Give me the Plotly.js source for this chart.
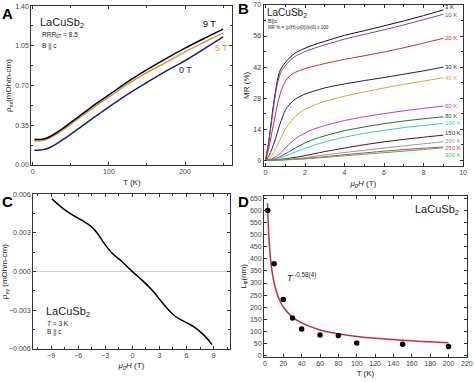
<!DOCTYPE html>
<html>
<head>
<meta charset="utf-8">
<script src="https://cdn.plot.ly/plotly-3.0.1.min.js"></script>
<style>html,body{margin:0;padding:0;background:#fff}#plot{width:474px;height:382px}</style>
</head>
<body>
<div id="plot"></div>
<script>
// ---------- Panel A: rho_xx vs T ----------
const tempA = [2,10,15,20,25,30,40,50,60,70,80,90,100,125,150,175,200,225,250];
const rho9T = [0.224,0.226,0.232,0.243,0.26,0.28,0.325,0.375,0.425,0.475,0.525,0.572,0.618,0.735,0.84,0.938,1.03,1.115,1.197];
const rho5T = [0.212,0.214,0.22,0.231,0.248,0.267,0.311,0.36,0.41,0.46,0.508,0.555,0.6,0.715,0.815,0.905,0.997,1.082,1.164];
const rho0T = [0.13,0.132,0.138,0.148,0.163,0.182,0.225,0.272,0.32,0.37,0.418,0.465,0.512,0.625,0.728,0.827,0.92,1.024,1.128];

// ---------- Panel B: MR vs field ----------
const fieldB = [0,0.1,0.2,0.3,0.4,0.5,0.6,0.7,0.8,1.0,1.2,1.5,2,2.5,3,4,5,6,7,8,9];
const mr3K   = [0,5,11,18,25,31,36,39.5,41.5,44,46,48.3,50.5,52.2,53.6,56.3,58.4,60.6,62.8,65.2,67.8];
const mr10K  = [0,4.6,10.3,17,23.5,29.5,34.3,37.8,40,42.6,44.6,46.8,49,50.6,52,54.6,56.7,58.8,61,63.4,65.8];
const mr20K  = [0,3,7,11.5,16,20.5,25,28.5,31.5,35.5,37.8,39.6,41.3,42.5,43.6,45.5,47.1,48.8,50.7,52.8,55];
const mr30K  = [0,1,2.5,4.5,7,9.5,12.5,15.5,18,22.5,25,27.5,29.8,31.3,32.6,34.4,35.9,37.3,38.8,40.3,42];
const mr40K  = [0,0.3,1,2,3.3,5,6.8,8.7,10.5,14,16.6,19.6,23,25,26.5,28.9,30.8,32.6,34.2,35.7,37.2];
const mr60K  = [0,0.1,0.3,0.6,1.0,1.5,2.1,2.8,3.5,5.6,7.2,9.6,12.3,14.2,15.6,17.9,19.6,21.0,22.3,23.4,24.4];
const mr80K  = [0,0.05,0.15,0.3,0.5,0.8,1.1,1.5,1.9,2.9,3.9,5.5,7.8,9.6,11,13.3,15,16.5,17.7,18.7,19.6];
const mr100K = [0,0.03,0.1,0.2,0.35,0.5,0.7,0.95,1.2,1.9,2.6,3.7,5.4,6.9,8.2,10.4,12.1,13.5,14.7,15.7,16.6];
const mr150K = [0,0.01,0.04,0.08,0.14,0.2,0.28,0.36,0.45,0.65,0.9,1.3,2.1,3,3.9,5.5,7,8.3,9.4,10.4,11.3];
const mr200K = [0,0.01,0.02,0.04,0.07,0.1,0.14,0.18,0.23,0.33,0.45,0.7,1.2,1.8,2.4,3.5,4.5,5.5,6.5,7.4,8.3];
const mr250K = [0,0,0.01,0.03,0.05,0.07,0.1,0.13,0.16,0.23,0.32,0.48,0.8,1.2,1.6,2.5,3.3,4.1,4.8,5.4,6];
const mr300K = [0,0,0.01,0.02,0.03,0.05,0.07,0.09,0.12,0.17,0.24,0.36,0.6,0.95,1.3,2,2.7,3.4,4.1,4.8,5.6];
const mrLabels = ['3 K','10 K','20 K','30 K','40 K','60 K','80 K','100 K','150 K','200 K','250 K','300 K'];

// ---------- Panel C: rho_xy vs field ----------
const fieldC = [-8.9,-7.7,-6.6,-5.5,-4.6,-3.85,-3.1,-2.2,-1.1,0,1.1,2.2,3.13,4.04,4.78,5.88,6.99,8.09,8.82];
const rhoXY  = [0.00564,0.00491,0.00439,0.00395,0.00353,0.00296,0.00218,0.0014,0.00075,0,-0.00068,-0.00145,-0.00223,-0.003,-0.00348,-0.00392,-0.00436,-0.00504,-0.00566];

// ---------- Panel D: L_phi vs T ----------
const tempD = [3,10,20,30,40,60,80,100,150,200];
const lphi  = [600,380,232,155,110,85,83,52,47,38];
const tempFit = [2.8,4,6,8,10,15,20,30,40,60,80,100,150,200];
const lphiFit = [630,512,404,342,301,237,201,159,135,106,90,79,63,53];

// ---------- styles ----------
const FONT = 'Liberation Sans, Arial, sans-serif';
const mrColors = ['#111111','#7a3fc4','#cc2b2b','#1c1c5e','#e0a040','#cc36c8','#2a6e2a','#36c8cc','#5a1010','#999999','#cc3a6a','#3cbf3c'];
const mrSeries = [mr3K,mr10K,mr20K,mr30K,mr40K,mr60K,mr80K,mr100K,mr150K,mr200K,mr250K,mr300K];
const labelShift = [3,-1,0,0,0,0,1,0,2,1,-1,-7];

const traces = [
  {x: tempA, y: rho0T, xaxis:'x', yaxis:'y', mode:'lines', line:{color:'#1c1c80', width:1.5, shape:'spline'}},
  {x: tempA, y: rho5T, xaxis:'x', yaxis:'y', mode:'lines', line:{color:'#d9953e', width:1.5, shape:'spline'}},
  {x: tempA, y: rho9T, xaxis:'x', yaxis:'y', mode:'lines', line:{color:'#000000', width:1.5, shape:'spline'}},
];
mrSeries.forEach((s,i)=>traces.push({x: fieldB, y: s, xaxis:'x2', yaxis:'y2', mode:'lines',
  line:{color: mrColors[i], width:1, shape:'spline'}}));
traces.push({x: fieldC, y: rhoXY, xaxis:'x3', yaxis:'y3', mode:'lines', line:{color:'#000', width:1.5, shape:'spline'}});
traces.push({x: tempFit, y: lphiFit, xaxis:'x4', yaxis:'y4', mode:'lines', line:{color:'#c0303a', width:1.5, shape:'spline'}});
traces.push({x: tempD, y: lphi, xaxis:'x4', yaxis:'y4', mode:'markers', marker:{color:'#000', size:5.5}});

const tickFont = {family: FONT, size: 7, color: '#444'};
const titleFont = {family: FONT, size: 8, color: '#222'};
function ax(opts){
  return Object.assign({
    showline:true, linecolor:'#333', linewidth:1, mirror:'ticks',
    ticks:'inside', ticklen:3, tickcolor:'#333', tickwidth:1,
    showgrid:false, zeroline:false, tickfont: tickFont, automargin:false
  }, opts);
}

const layout = {
  width: 474, height: 382,
  margin: {l:0, r:0, t:0, b:0},
  paper_bgcolor:'#fff', plot_bgcolor:'#fff',
  showlegend:false,
  font:{family: FONT},
  xaxis: ax({domain:[0.066,0.49], range:[-2,262], tickvals:[0,100,200],
    minor:{ticks:'inside', ticklen:2, dtick:50, tick0:0, tickcolor:'#333'},
    title:{text:'T (K)', font:titleFont, standoff:4}, anchor:'y'}),
  yaxis: ax({domain:[0.568,0.984], range:[0,1.4], tickvals:[0,0.35,0.7,1.05,1.4], tickformat:'.2f',
    minor:{ticks:'inside', ticklen:2, dtick:0.175, tick0:0, tickcolor:'#333'},
    title:{text:'ρ<sub>xx</sub>(mOhm-cm)', font:titleFont, standoff:2}, anchor:'x'}),
  xaxis2: ax({domain:[0.556,0.977], range:[-0.1,10], dtick:2,
    minor:{ticks:'inside', ticklen:2, dtick:1, tickcolor:'#333'},
    title:{text:'<i>μ<sub>0</sub>H</i> (T)', font:titleFont, standoff:5}, anchor:'y2'}),
  yaxis2: ax({domain:[0.566,0.987], range:[-2.5,70], dtick:14,
    minor:{ticks:'inside', ticklen:2, dtick:7, tickcolor:'#333'},
    title:{text:'MR (%)', font:titleFont, standoff:2}, anchor:'x2'}),
  xaxis3: ax({domain:[0.0696,0.485], range:[-11,10.8], tickvals:[-9,-6,-3,0,3,6,9],
    minor:{ticks:'inside', ticklen:2, dtick:1.5, tick0:0, tickcolor:'#333'},
    title:{text:'<i>μ<sub>0</sub>H</i> (T)', font:titleFont, standoff:4}, anchor:'y3'}),
  yaxis3: ax({domain:[0.0864,0.4914], range:[-0.006,0.006], tickvals:[-0.006,-0.003,0,0.003,0.006], tickformat:'.3f',
    minor:{ticks:'inside', ticklen:2, dtick:0.0015, tick0:0, tickcolor:'#333'},
    zeroline:true, zerolinecolor:'#cccccc', zerolinewidth:1,
    title:{text:'ρ<sub>xy</sub> (mOhm-cm)', font:titleFont, standoff:2}, anchor:'x3'}),
  xaxis4: ax({domain:[0.557,0.985], range:[-1,220], dtick:20,
    title:{text:'T (K)', font:titleFont, standoff:4}, anchor:'y4'}),
  yaxis4: ax({domain:[0.066,0.487], range:[-5,660], dtick:50,
    title:{text:'L<sub>φ</sub>(nm)', font:titleFont, standoff:2}, anchor:'x4'}),
  annotations: []
};

function txt(text, x, y, size, opts){
  return Object.assign({text:text, x:x, y:y, xref:'paper', yref:'paper', showarrow:false,
    xanchor:'left', yanchor:'middle', font:{family:FONT, size:size, color:'#222'}}, opts||{});
}
function px(x){return x/474;} function py(y){return 1-y/382;}
const A = layout.annotations;
A.push(txt('<b>A</b>', px(0), py(13), 15, {font:{family:FONT,size:15,color:'#000'}}));
A.push(txt('<b>B</b>', px(236), py(9), 15, {font:{family:FONT,size:15,color:'#000'}}));
A.push(txt('<b>C</b>', px(0), py(202), 15, {font:{family:FONT,size:15,color:'#000'}}));
A.push(txt('<b>D</b>', px(236), py(201), 15, {font:{family:FONT,size:15,color:'#000'}}));
// Panel A text
A.push(txt('LaCuSb<sub>2</sub>', px(38), py(23), 11));
A.push(txt('RRR<sub>0T</sub> = 8.5', px(40), py(35), 6.5));
A.push(txt('B || c', px(40), py(46), 6.5));
A.push(txt('9 T', px(201), py(24), 9, {font:{family:FONT,size:9,color:'#000'}}));
A.push(txt('5 T', px(213), py(48), 9, {font:{family:FONT,size:9,color:'#d9953e'}}));
A.push(txt('0 T', px(177), py(70), 9, {font:{family:FONT,size:9,color:'#1c1c80'}}));
// Panel B text
A.push(txt('LaCuSb<sub>2</sub>', px(265), py(13), 10));
A.push(txt('B||c', px(266), py(21), 5.5));
A.push(txt('MR % = (ρ(H)-ρ(0))/ρ(0) x 100', px(266), py(28), 4.5));
mrSeries.forEach((s,i)=>A.push({text: mrLabels[i], x: 9.0, y: s[s.length-1], xref:'x2', yref:'y2',
  showarrow:false, xanchor:'left', yanchor:'middle', yshift: labelShift[i],
  font:{family:FONT, size:6, color: mrColors[i]}}));
// Panel C text
A.push(txt('LaCuSb<sub>2</sub>', px(44), py(312), 11));
A.push(txt('<i>T</i> = 3 K', px(45), py(323), 6.5));
A.push(txt('B || c', px(45), py(332), 6.5));
// Panel D text
A.push(txt('LaCuSb<sub>2</sub>', px(413), py(210), 11));
A.push(txt('<i>T</i><sup> -0.58(4)</sup>', px(285), py(277), 9));

Plotly.newPlot('plot', traces, layout, {displayModeBar:false, staticPlot:true});
</script>
</body>
</html>
